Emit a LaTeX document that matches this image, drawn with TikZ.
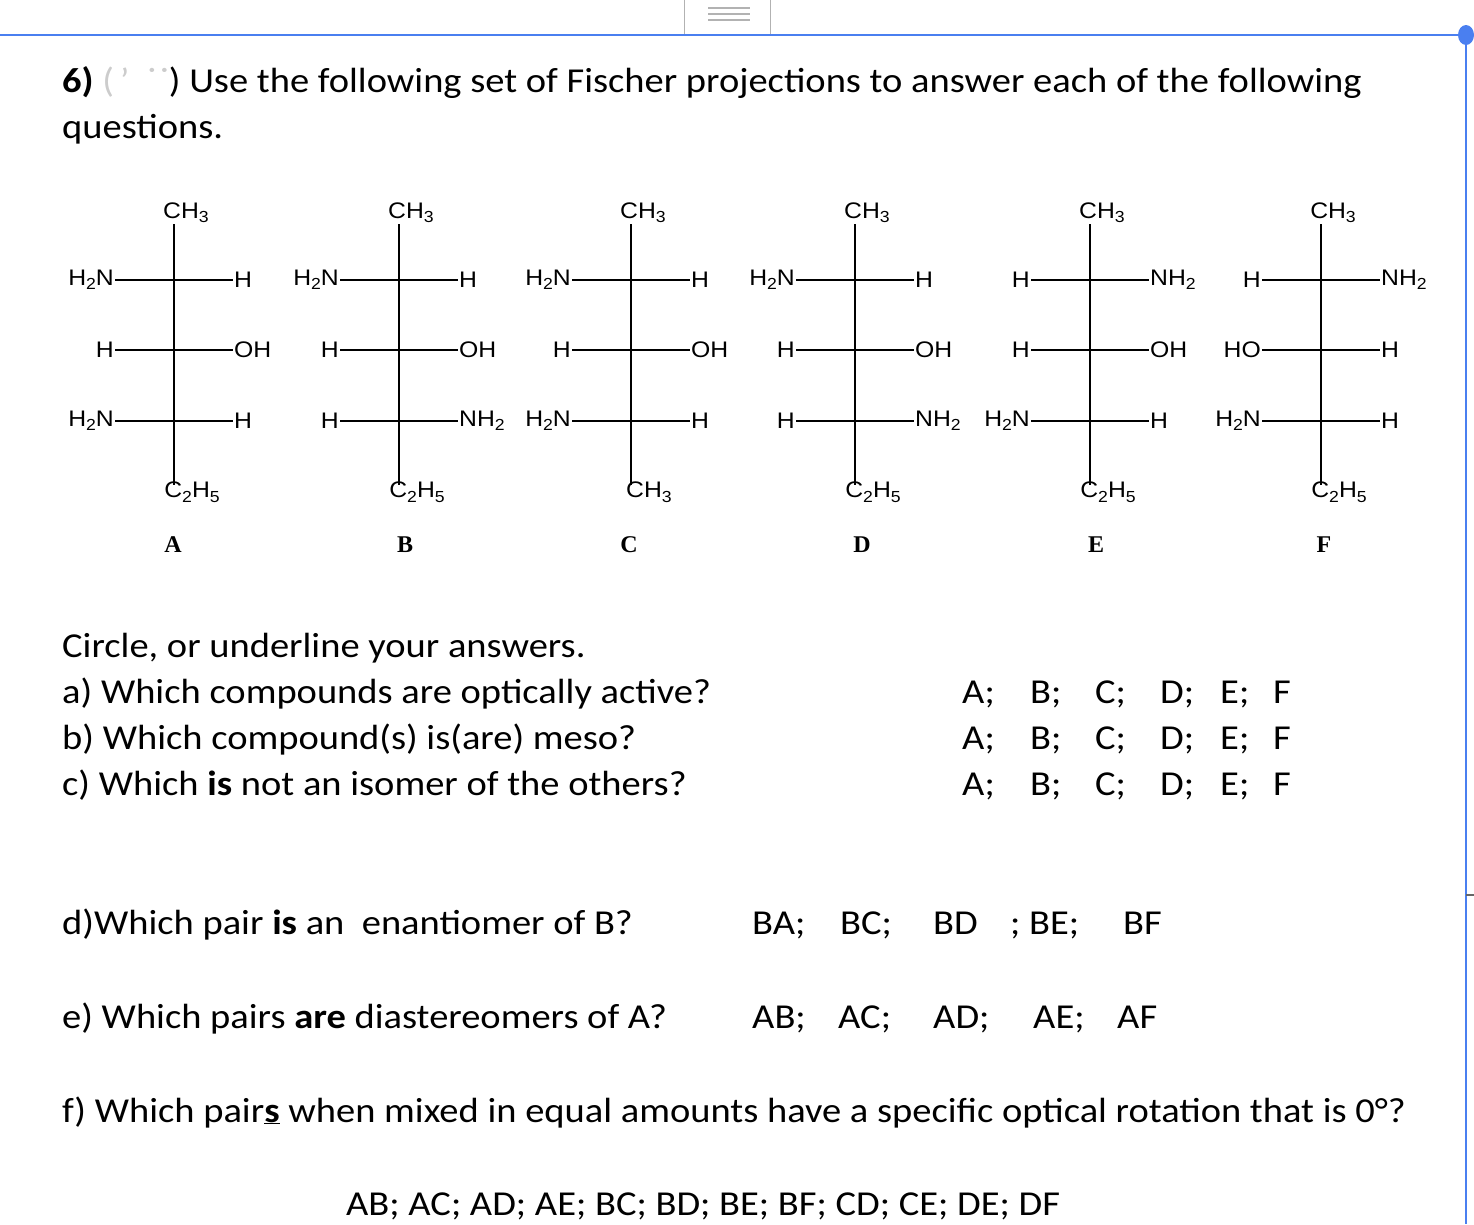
\documentclass[tikz,border=0pt]{standalone}
\usepackage{fontspec}
\setmainfont{Carlito}[FakeStretch=1.1]
\newfontfamily\molfont{Liberation Sans}[FakeStretch=1.1]
\newfontfamily\letfont{Liberation Serif}
\definecolor{uiblue}{HTML}{4A7FF0}
\newcommand{\sbs}[1]{\raisebox{-0.35ex}{\fontsize{16}{16}\selectfont #1}}
\begin{document}
\begin{tikzpicture}[x=1pt,y=-1pt,
  txt/.style={font=\fontsize{35}{40}\selectfont,anchor=base west,inner sep=0pt},
  mol/.style={font=\molfont\fontsize{22.5}{26}\selectfont,inner sep=1pt},
  bond/.style={line width=1.2pt},
  lett/.style={font=\letfont\bfseries\fontsize{24}{26}\selectfont}]
\useasboundingbox (0,0) rectangle (1474,1224);
% UI elements
\draw[gray!60,line width=0.8pt] (684,0) -- (684,35) (770,0) -- (770,35);
\foreach \yy in {8,14,20} \draw[gray!60,line width=2pt] (708,\yy) -- (750,\yy);
\draw[uiblue,line width=1.2pt] (0,35) -- (1464,35);
\draw[uiblue,line width=1.2pt] (1466,40) -- (1466,1224);
\fill[uiblue] (1466,35) ellipse (8 and 10);
\draw[gray!80!black,line width=1.5pt] (1466,895) -- (1474,895);
% title
\node[txt] (t1) at (62,92) {\textbf{6)} \textcolor{gray!40}{(\,'\hspace{18pt}˙\hspace{4pt}˙}) Use the following set of Fischer projections to answer each of the following};
\node[txt] (t2) at (62,138) {questions.};
% Fischer projections
\newcommand{\fischer}[8]{%
 \begin{scope}[shift={(#1,0)}]
  \coordinate (#2c1) at (0,280); \coordinate (#2c2) at (0,350); \coordinate (#2c3) at (0,421);
  \node[mol,anchor=south] (#2top) at (12,224) {CH\sbs{3}};
  \node[mol,anchor=east] (#2l1) at (-59,280) {#3};
  \node[mol,anchor=west] (#2r1) at (59,280) {#4};
  \node[mol,anchor=east] (#2l2) at (-59,350) {#5};
  \node[mol,anchor=west] (#2r2) at (59,350) {#6};
  \node[mol,anchor=east] (#2l3) at (-59,421) {#7};
  \node[mol,anchor=west] (#2r3) at (59,421) {#8};
  \coordinate (#2vt) at (0,224); \coordinate (#2vb) at (0,485);
  \draw[bond] (#2vt) -- (#2vb);
  \foreach \i in {1,2,3} \draw[bond] (#2l\i.east) -- (#2c\i) -- (#2r\i.west);
 \end{scope}}
\newcommand{\HtN}{H\sbs{2}N}
\newcommand{\NHt}{NH\sbs{2}}
\fischer{174}{A}{\HtN}{H}{H}{OH}{\HtN}{H}
\fischer{399}{B}{\HtN}{H}{H}{OH}{H}{\NHt}
\fischer{631}{C}{\HtN}{H}{H}{OH}{\HtN}{H}
\fischer{855}{D}{\HtN}{H}{H}{OH}{H}{\NHt}
\fischer{1090}{E}{H}{\NHt}{H}{OH}{\HtN}{H}
\fischer{1321}{F}{H}{\NHt}{HO}{H}{\HtN}{H}
\foreach \m/\xx/\lab in {A/174/C\sbs{2}H\sbs{5},B/399/C\sbs{2}H\sbs{5},C/631/CH\sbs{3},D/855/C\sbs{2}H\sbs{5},E/1090/C\sbs{2}H\sbs{5},F/1321/C\sbs{2}H\sbs{5}}
  \node[mol,anchor=north] (\m lab) at (\xx+18,481) {\lab};
\foreach \m/\xx in {A/173,B/405,C/629,D/862,E/1096,F/1324}
  \node[lett] (L\m) at (\xx,545) {\m};
% questions
\node[txt] (q0) at (62,657) {Circle, or underline your answers.};
\node[txt] (qa) at (62,703) {a) Which compounds are optically active?};
\node[txt] (qb) at (62,749) {b) Which compound(s) is(are) meso?};
\node[txt] (qc) at (62,795) {c) Which \textbf{is} not an isomer of the others?};
\foreach \yy/\r in {703/a,749/b,795/c}{
  \node[txt] (\r1) at (962,\yy) {A;};
  \node[txt] (\r2) at (1030,\yy) {B;};
  \node[txt] (\r3) at (1095,\yy) {C;};
  \node[txt] (\r4) at (1160,\yy) {D;};
  \node[txt] (\r5) at (1220,\yy) {E;};
  \node[txt] (\r6) at (1273,\yy) {F};}
\node[txt] (qd) at (62,934) {d)Which pair \textbf{is} an\ \ enantiomer of B?};
\node[txt] (d1) at (752,934) {BA;};
\node[txt] (d2) at (840,934) {BC;};
\node[txt] (d3) at (933,934) {BD};
\node[txt] (d4) at (1010,934) {; BE;};
\node[txt] (d5) at (1123,934) {BF};
\node[txt] (qe) at (62,1028) {e) Which pairs \textbf{are} diastereomers of A?};
\node[txt] (e1) at (752,1028) {AB;};
\node[txt] (e2) at (838,1028) {AC;};
\node[txt] (e3) at (933,1028) {AD;};
\node[txt] (e4) at (1033,1028) {AE;};
\node[txt] (e5) at (1117,1028) {AF};
\node[txt] (qf) at (62,1122) {f) Which pair\underline{\textbf{s}} when mixed in equal amounts have a specific optical rotation that is 0°?};
\node[txt] (qg) at (346,1215) {AB; AC; AD; AE; BC; BD; BE; BF; CD; CE; DE; DF};
\end{tikzpicture}
\end{document}
